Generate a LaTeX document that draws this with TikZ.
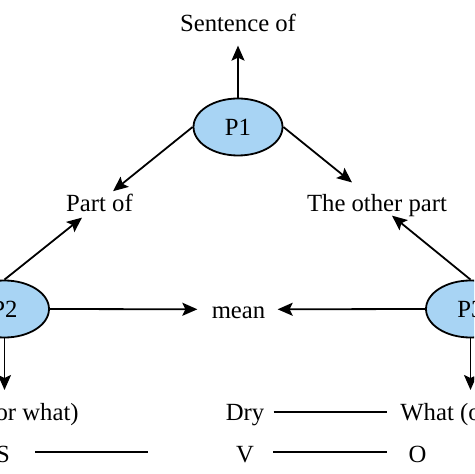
\documentclass[tikz,border=0pt]{standalone}
\usepackage{fontspec}
\setmainfont{Liberation Serif}
\usetikzlibrary{arrows.meta}
\usetikzlibrary{shapes.geometric}
\definecolor{pblue}{RGB}{168,212,244}

\begin{document}
\begin{tikzpicture}[x = 0.5pt, y = -0.5pt, font = \fontsize{12.35pt}{14pt}\selectfont]
		\tikzset{vertex/.style={shape = ellipse, draw, fill = pblue, line width = 0.9pt, minimum width = 44.5pt, minimum height = 28.5pt, inner sep = 0pt}}
		\tikzset{word/.style={inner sep = 0pt}}
		\tikzset{edge/.style={-{Stealth[length = 7.5pt, width = 6.5pt, inset = 1.5pt]}, line width = 0.9pt}}
		\tikzset{link/.style={line width = 0.9pt}}
		\useasboundingbox (0, 0) rectangle (474, 474);
		\clip (0, 0) rectangle (474, 474);
					%vertices
					\node[vertex] (p1) at (238, 127) {P1};
					\node[vertex] (p2) at (4.5, 309) {P2};
					\node[vertex] (p3) at (470.5, 309) {P3};
					%words
					\node[word, anchor = base] (sentence) at (238, 32) {Sentence of};
					\node[word, anchor = base] (partof) at (99.5, 212) {Part of};
					\node[word, anchor = base] (otherpart) at (377, 212) {The other part};
					\node[word, anchor = base] (mean) at (238.5, 318) {mean};
					\node[word, anchor = base east] (orwhat) at (79, 420) {(or what)};
					\node[word, anchor = base] (dry) at (245, 420) {Dry};
					\node[word, anchor = base west] (what) at (400, 420) {What (o};
					\node[word, anchor = base] (s) at (3, 462) {S};
					\node[word, anchor = base] (v) at (245, 462) {V};
					\node[word, anchor = base] (o) at (417.5, 462) {O};
					\coordinate (p2end) at (4.5, 390);
					\coordinate (p3end) at (470.5, 390);
					%edges
					\draw[edge] (p1.north) -- ([shift={(0, 13)}]sentence.south);
					\draw[edge] (p1.west) -- ([shift={(13.5, -3)}]partof.north);
					\draw[edge] (p1.east) -- ([shift={(-25, -12)}]otherpart.north);
					\draw[edge] (p2.north) -- ([shift={(-17.5, 5)}]partof.south);
					\draw[edge] (p3.north) -- ([shift={(15, -2)}]otherpart.south);
					\draw[edge] (p2.east) -- ([shift={(-14, -3)}]mean.west);
					\draw[edge] (p3.west) -- ([shift={(12, -3)}]mean.east);
					\draw[edge] (p2.south) -- (p2end);
					\draw[edge] (p3.south) -- (p3end);
					%lines
					\draw[link] ([shift={(9, -8)}]dry.base east) -- ([shift={(-13, -8)}]what.base west);
					\draw[link] ([shift={(25, -10)}]s.base east) -- ([shift={(-88, -10)}]v.base west);
					\draw[link] ([shift={(19, -10)}]v.base east) -- ([shift={(-21.5, -10)}]o.base west);
					
\end{tikzpicture}
\end{document}
